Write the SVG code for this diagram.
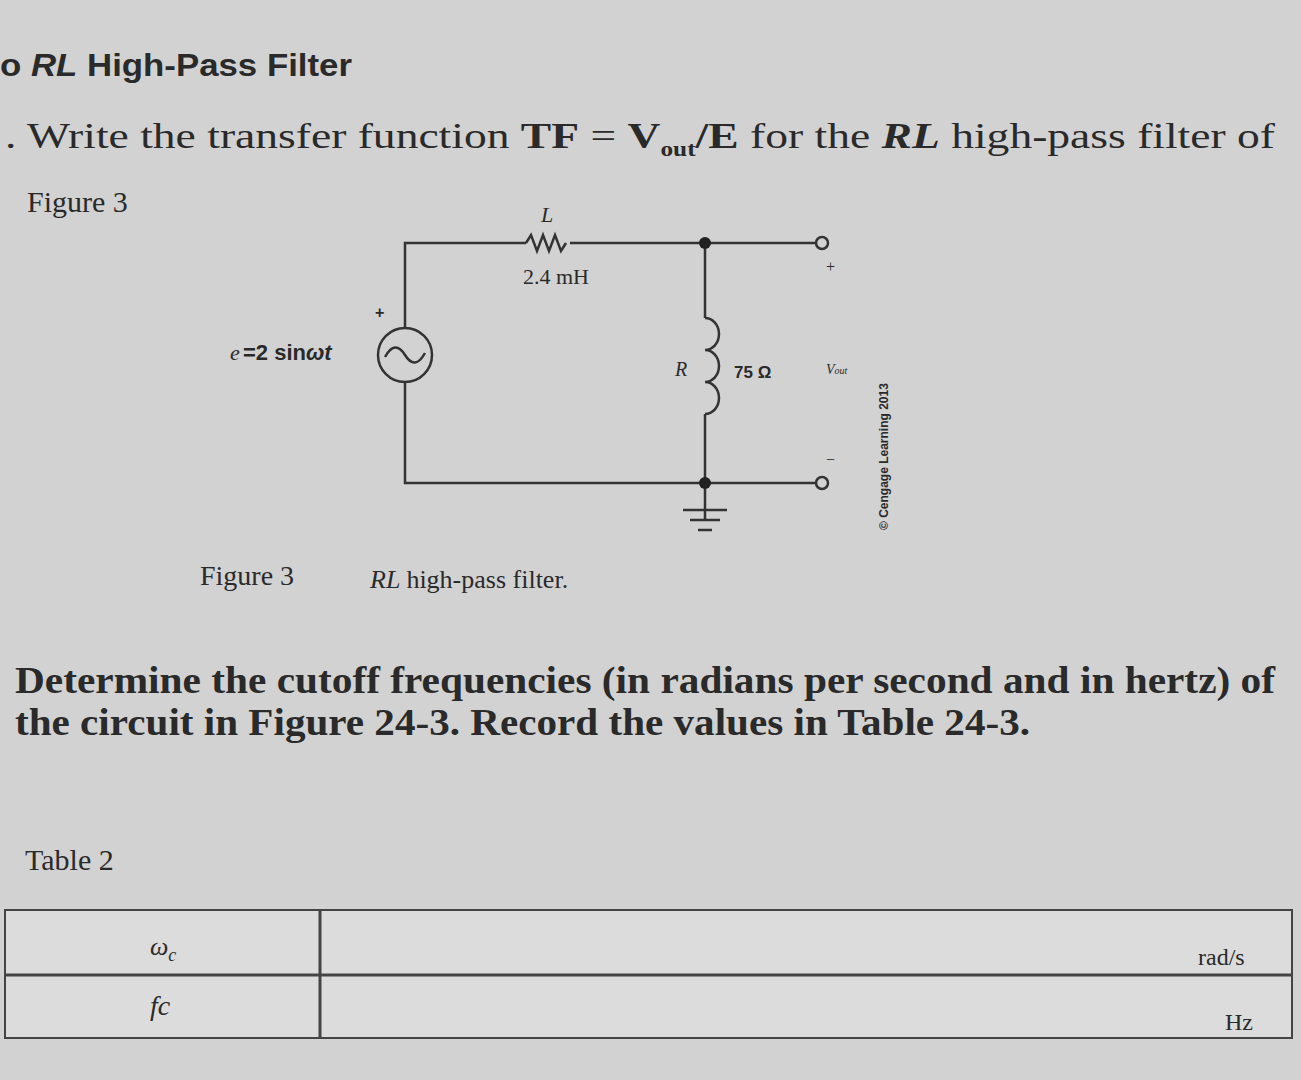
<svg xmlns="http://www.w3.org/2000/svg" width="1301" height="1080" viewBox="0 0 1301 1080">
<style>
.s{font-family:"Liberation Serif",serif;fill:#2a2a2a}
.w{stroke:#333;stroke-width:2.5;fill:none}
.b{font-family:"Liberation Sans",sans-serif;font-weight:bold;fill:#2a2a2a}
.t{fill:#dcdcdc;stroke:#444;stroke-width:2}
</style>
<rect width="1301" height="1080" fill="#d2d2d2"/>
<text class="b" x="0" y="76" font-size="32" textLength="352" lengthAdjust="spacingAndGlyphs">o <tspan font-style="italic">RL</tspan> High-Pass Filter</text>
<text class="s" x="5" y="148" font-size="36" font-weight="bold" textLength="1270" lengthAdjust="spacingAndGlyphs"><tspan font-weight="normal">. Write the transfer function </tspan>TF<tspan font-weight="normal"> = </tspan>V<tspan font-size="20" dy="8">out</tspan><tspan dy="-8">/E</tspan><tspan font-weight="normal"> for the </tspan><tspan font-style="italic">RL</tspan><tspan font-weight="normal"> high-pass filter of</tspan></text>
<text class="s" x="27" y="212" font-size="30">Figure 3</text>
<g id="connectors">
<path class="w" d="M405 328 V243 H526 M570 243 H818 M405 382 V483 H818 M705 243 V318 M705 414 V483 V520"/>
<path class="w" d="M526 243 l5 -8 l6 16 l6 -16 l6 16 l6 -16 l6 16 l5 -8"/>
<path class="w" d="M705 318 a14 16 0 0 1 0 32 a14 16 0 0 1 0 32 a14 16 0 0 1 0 32"/>
<path class="w" d="M683 510 H727 M690 520 H720 M698 530 H712"/>
</g>
<g id="source"><circle class="w" cx="405" cy="355" r="27"/><path class="w" d="M385 357 q10 -18 20 -2 q10 16 20 -2"/>
<text class="b" x="375" y="318" font-size="16">+</text>
<text class="s" x="230" y="360" font-size="22" font-style="italic">e</text><text class="b" x="243" y="360" font-size="22">=2 sin<tspan font-style="italic">ωt</tspan></text></g>
<g id="inductorL"><text class="s" x="541" y="222" font-size="22" font-style="italic">L</text><text class="s" x="523" y="284" font-size="22">2.4 mH</text></g>
<g id="dots"><circle cx="705" cy="243" r="6" fill="#222"/><circle cx="705" cy="483" r="6" fill="#222"/>
<circle cx="822" cy="243" r="6" fill="#d2d2d2" stroke="#333" stroke-width="2.5"/><circle cx="822" cy="483" r="6" fill="#d2d2d2" stroke="#333" stroke-width="2.5"/></g>
<g id="R"><text class="s" x="675" y="376" font-size="20" font-style="italic">R</text><text class="b" x="734" y="378" font-size="17" font-weight="normal">75 Ω</text></g>
<g id="vout"><text class="s" x="826" y="272" font-size="16">+</text><text class="s" x="826" y="465" font-size="16">−</text>
<text class="s" x="826" y="374" font-size="14" font-style="italic">V<tspan font-size="10">out</tspan></text></g>
<text class="b" x="0" y="0" font-size="12" font-weight="normal" transform="translate(888,530) rotate(-90)">© Cengage Learning 2013</text>
<text class="s" x="200" y="585" font-size="28">Figure 3</text>
<text class="s" x="370" y="588" font-size="26" font-style="italic">RL <tspan font-style="normal">high-pass filter.</tspan></text>
<text class="s" x="15" y="693" font-size="37" font-weight="bold" textLength="1260" lengthAdjust="spacingAndGlyphs">Determine the cutoff frequencies (in radians per second and in hertz) of</text>
<text class="s" x="15" y="735" font-size="37" font-weight="bold" textLength="1015" lengthAdjust="spacingAndGlyphs">the circuit in Figure 24-3. Record the values in Table 24-3.</text>
<text class="s" x="25" y="870" font-size="30">Table 2</text>
<g id="table">
<rect class="t" x="5" y="910" width="1287" height="128"/>
<path d="M5 975 H1292 M320 910 V1038" stroke="#444" stroke-width="3"/>
<text class="s" x="150" y="955" font-size="26" font-style="italic">ω<tspan font-size="18" dy="6">c</tspan></text>
<text class="s" x="150" y="1015" font-size="28" font-style="italic">fc</text>
<text class="s" x="1198" y="965" font-size="24">rad/s</text>
<text class="s" x="1225" y="1030" font-size="24">Hz</text>
</g>
</svg>
